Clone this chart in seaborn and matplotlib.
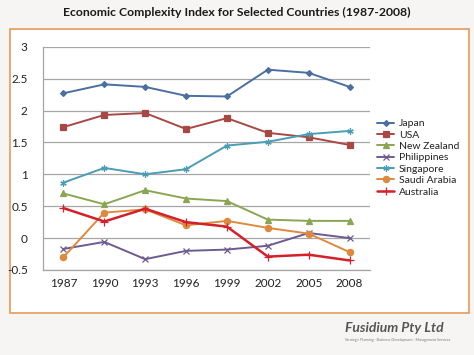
import matplotlib
matplotlib.use("Agg")
import matplotlib.pyplot as plt
import seaborn as sns
import pandas as pd
from matplotlib.patches import Rectangle

years = ["1987", "1990", "1993", "1996", "1999", "2002", "2005", "2008"]
countries = ["Japan", "USA", "New Zealand", "Philippines", "Singapore", "Saudi Arabia", "Australia"]
japan = [2.27, 2.41, 2.37, 2.23, 2.22, 2.64, 2.59, 2.37]
usa = [1.74, 1.93, 1.96, 1.71, 1.88, 1.65, 1.58, 1.46]
new_zealand = [0.70, 0.53, 0.75, 0.62, 0.58, 0.29, 0.27, 0.27]
philippines = [-0.17, -0.06, -0.33, -0.20, -0.18, -0.12, 0.08, 0.00]
singapore = [0.87, 1.10, 1.00, 1.08, 1.45, 1.51, 1.63, 1.68]
saudi_arabia = [-0.30, 0.40, 0.45, 0.20, 0.27, 0.16, 0.07, -0.22]
australia = [0.47, 0.26, 0.46, 0.25, 0.18, -0.29, -0.26, -0.35]
y_ticks = [-0.5, 0, 0.5, 1, 1.5, 2, 2.5, 3]
y_tick_labels = ["-0.5", "0", "0.5", "1", "1.5", "2", "2.5", "3"]

series = [japan, usa, new_zealand, philippines, singapore, saudi_arabia, australia]
colors = ["#4A6FA0", "#A84845", "#8AA652", "#6E5A93", "#4A9DB5", "#DE8A3E", "#D4202A"]
markers = ["D", "s", "^", "x", (6, 2, 0), "o", "+"]
msizes = [3.0, 4.0, 4.0, 4.0, 4.5, 4.5, 5.5]
lwidths = [1.4, 1.4, 1.4, 1.4, 1.4, 1.4, 1.8]

rows = []
for c, vals in zip(countries, series):
    for y, v in zip(years, vals):
        rows.append({"year": y, "value": v, "country": c})
df = pd.DataFrame(rows)

sns.set_theme(style="white")
plt.rcParams["font.family"] = ["Lato", "DejaVu Sans"]

fig = plt.figure(figsize=(4.74, 3.55), dpi=100)
fig.patch.set_facecolor("#F7F5F4")

# frame box
fig.patches.append(Rectangle((10/474, 1-313/355), (469-10)/474, (313-29)/355,
                             transform=fig.transFigure, facecolor="white",
                             edgecolor="#E89A5A", linewidth=1.2, zorder=-10))

ax = fig.add_axes([43/474, 1-270/355, (370-43)/474, (270-46.7)/355])
ax.set_facecolor("white")

for c, col, m, ms, lw in zip(countries, colors, markers, msizes, lwidths):
    sub = df[df["country"] == c]
    sns.lineplot(data=sub, x="year", y="value", ax=ax, color=col, marker=m,
                 markersize=ms, linewidth=lw, markeredgecolor=col,
                 markeredgewidth=0.9, label=c, sort=False)

ax.set_xlim(-0.5, len(years) - 0.5)
ax.set_ylim(-0.5, 3)
ax.set_yticks(y_ticks)
ax.set_yticklabels(y_tick_labels)
ax.set_xlabel("")
ax.set_ylabel("")
ax.grid(axis="y", color="#A6A6A6", linewidth=0.9)
ax.grid(axis="x", visible=False)
for s in ["top", "right"]:
    ax.spines[s].set_visible(False)
for s in ["left", "bottom"]:
    ax.spines[s].set_color("#A6A6A6")
    ax.spines[s].set_linewidth(0.9)
ax.tick_params(axis="y", labelsize=8.5, colors="#222222", pad=11, length=0)
ax.tick_params(axis="x", labelsize=8.5, colors="#222222", pad=6, length=0)

leg = ax.legend(loc="upper left", bbox_to_anchor=(1.01, 0.695), frameon=False,
                fontsize=7.5, handlelength=1.6, handletextpad=0.45,
                labelspacing=0.2, borderaxespad=0)
for t in leg.get_texts():
    t.set_color("#222222")

fig.text(0.5, 1-12/355, "Economic Complexity Index for Selected Countries (1987-2008)",
         ha="center", va="center", fontsize=8.8, fontweight="bold", color="#1a1a1a")

fig.text(345/474, 1-328/355, "Fusidium Pty Ltd", ha="left", va="center",
         fontsize=10, fontweight="bold", style="italic", color="#555555")
fig.text(345/474, 1-340/355, "Strategic Planning · Business Development · Management Services",
         ha="left", va="center", fontsize=2.6, color="#777777")

fig.savefig("out.png", dpi=100, facecolor=fig.get_facecolor())
